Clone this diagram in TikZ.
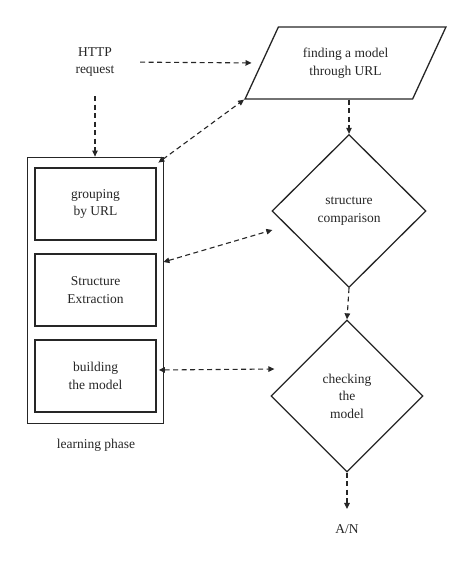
\documentclass[tikz,border=0pt]{standalone}
\usepackage{fontspec}
\setmainfont{Liberation Serif}
\usetikzlibrary{shapes.geometric,arrows.meta}
\begin{document}
\begin{tikzpicture}[x=1pt,y=-1pt,font=\fontsize{13.5}{17.5}\selectfont,text=black!85]
	\tikzset{stagebox/.style={draw=black!85,line width=1.8pt,minimum width=121pt,minimum height=72pt,align=center}}
	\tikzset{testbox/.style={diamond,draw=black!85,line width=1.3pt,minimum width=154pt,minimum height=153pt,inner sep=0pt,align=center}}
	\tikzset{flow/.style={draw=black!85,line width=1.1pt,dash pattern=on 5pt off 3.5pt,-{Triangle[length=6pt,width=5.5pt]}}}
	\tikzset{twoway/.style={flow,{Triangle[length=6pt,width=5.5pt]}-{Triangle[length=6pt,width=5.5pt]}}}
	\def\bx{95.5} \def\dx{349}
	\useasboundingbox (0,0) rectangle (474,561);
	% left column: request and learning phase
	\node[align=center] (http) at (95,62) {HTTP\\request};
	\node[draw=black!85,line width=0.8pt,minimum width=136pt,minimum height=266pt] (learn) at (95,290) {};
	\node[stagebox] (group) at (\bx,204) {grouping\\by URL};
	\node[stagebox] (extract) at (\bx,290) {Structure\\Extraction};
	\node[stagebox] (build) at (\bx,376) {building\\the model};
	\node (phase) at (96,445) {learning phase};
	% right column: model lookup and checks
	\node[trapezium,trapezium left angle=58,trapezium right angle=122,trapezium stretches=true,
		draw=black!85,line width=1.3pt,minimum width=201pt,minimum height=72pt,align=center]
		(find) at (345.5,63) {finding a model\\through URL};
	\node[testbox] (cmp) at (\dx,211) {structure\\comparison};
	\node[testbox,minimum width=152pt,minimum height=152pt] (chk) at (347,396) {checking\\the\\model};
	\node (an) at (347,529) {A/N};
	% connectors
	\draw[flow,shorten <=22pt,shorten >=9.5pt] (http.east) -- (find.west);
	\draw[flow,shorten <=16pt] (http.south) -- (learn.north);
	\draw[flow] (cmp.north |- find.south) -- (cmp.north);
	\draw[flow] (cmp.south) -- (chk.north);
	\draw[flow,shorten >=12pt] (chk.south) -- (an.north);
	\draw[twoway] ([shift={(-5pt,-6pt)}]learn.north east) -- (find.bottom left corner);
	\draw[twoway] ([yshift=28pt]learn.east) -- ([shift={(1pt,-19pt)}]cmp.west);
	\draw[twoway] ([shift={(2pt,6pt)}]build.east) -- ([shift={(4pt,27pt)}]chk.west);
\end{tikzpicture}
\end{document}
